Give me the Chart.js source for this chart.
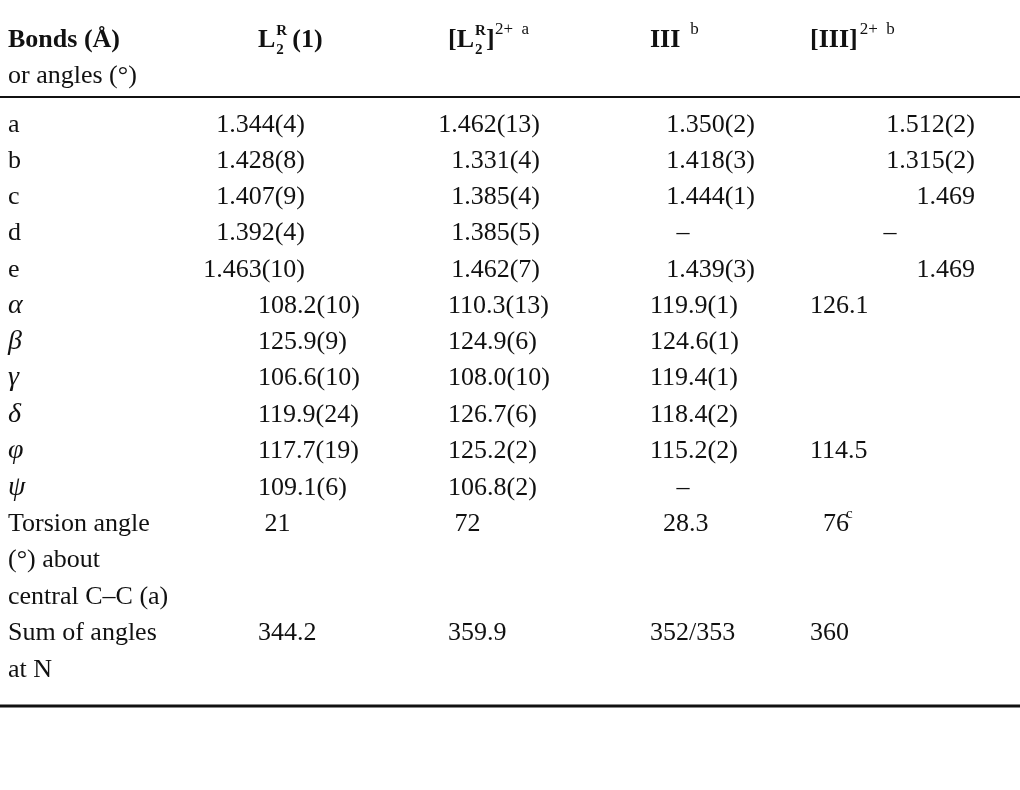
<!DOCTYPE html>
<html><head><meta charset="utf-8">
<script src="https://cdn.jsdelivr.net/npm/chart.js@4"></script>
<style>body{margin:0;background:#fff}#wrap{width:1020px;height:790px}</style>
</head><body><div id="wrap"><canvas id="canvas"></canvas></div>
<script>
// table contents
var rowLabels = ['a','b','c','d','e','α','β','γ','δ','φ','ψ','Torsion angle','(°) about','central C–C (a)','Sum of angles','at N'];
var colL2 = ['1.344(4)','1.428(8)','1.407(9)','1.392(4)','1.463(10)','108.2(10)','125.9(9)','106.6(10)','119.9(24)','117.7(19)','109.1(6)',' 21','','','344.2',''];
var colL2ion = ['1.462(13)','1.331(4)','1.385(4)','1.385(5)','1.462(7)','110.3(13)','124.9(6)','108.0(10)','126.7(6)','125.2(2)','106.8(2)',' 72','','','359.9',''];
var colIII = ['1.350(2)','1.418(3)','1.444(1)','–','1.439(3)','119.9(1)','124.6(1)','119.4(1)','118.4(2)','115.2(2)','–','  28.3','','','352/353',''];
var colIIIion = ['1.512(2)','1.315(2)','1.469','–','1.469','126.1','','','','114.5','','  76','','','360',''];
var rowY = [125,161,197,233,270,306,342,378,415,451,488,524,560,597,633,670];
var colLeft = [8,258,448,650,810];
var colRight = [0,305,540,755,975];
var dashX = [0,0,0,683,890];

var font = '"Liberation Serif", "DejaVu Serif", serif';

var tablePlugin = {
  id: 'tableText',
  afterDraw: function(chart){
    var ctx = chart.ctx, xs = chart.scales.x, ys = chart.scales.y;
    var X = function(v){ return xs.getPixelForValue(v); };
    var Y = function(v){ return ys.getPixelForValue(v); };
    ctx.save();
    ctx.fillStyle = '#111';
    ctx.textBaseline = 'middle';
    function txt(s, x, y, size, align, style){
      ctx.font = (style ? style + ' ' : '') + size + 'px ' + font;
      ctx.textAlign = align || 'left';
      ctx.fillText(s, X(x), Y(y));
      return ctx.measureText(s).width;
    }
    // header
    txt('Bonds (Å)', 8, 40, 26, 'left', 'bold');
    txt('or angles (°)', 8, 76, 26);
    var w = txt('L', 258, 40, 26, 'left', 'bold');
    txt('R', 258 + w + 1, 31, 15, 'left', 'bold');
    txt('2', 258 + w + 1, 50, 15, 'left', 'bold');
    txt('(1)', 258 + w + 17, 40, 26, 'left', 'bold');
    w = txt('[L', 448, 40, 26, 'left', 'bold');
    txt('R', 448 + w + 1, 31, 15, 'left', 'bold');
    txt('2', 448 + w + 1, 50, 15, 'left', 'bold');
    txt(']', 448 + w + 12, 40, 26, 'left', 'bold');
    txt('2+  a', 448 + w + 21, 30, 17);
    w = txt('III', 650, 40, 26, 'left', 'bold');
    txt('b', 650 + w + 10, 30, 17);
    w = txt('[III]', 810, 40, 26, 'left', 'bold');
    txt('2+  b', 810 + w + 2, 30, 17);
    // rows
    var cols = [colL2, colL2ion, colIII, colIIIion];
    rowY.forEach(function(y, i){
      var greek = i >= 5 && i <= 10;
      txt(rowLabels[i], 8, y, greek ? 28 : 26, 'left', greek ? 'italic' : '');
      cols.forEach(function(col, c){
        var v = col[i];
        if (!v) return;
        if (v === '–') txt(v, dashX[c+1], y, 26, 'center');
        else if (i < 5) txt(v, colRight[c+1], y, 26, 'right');
        else txt(v, colLeft[c+1], y, 26, 'left');
      });
    });
    txt('c', 846, 514, 15);
    // rules
    ctx.strokeStyle = '#111';
    ctx.lineWidth = 2;
    ctx.beginPath(); ctx.moveTo(X(0), Y(97)); ctx.lineTo(X(1020), Y(97)); ctx.stroke();
    ctx.lineWidth = 3;
    ctx.beginPath(); ctx.moveTo(X(0), Y(706)); ctx.lineTo(X(1020), Y(706)); ctx.stroke();
    ctx.restore();
  }
};

new Chart(document.getElementById('canvas').getContext('2d'), {
  type: 'scatter',
  data: { datasets: [{ data: [], pointRadius: 0 }] },
  options: {
    responsive: true,
    maintainAspectRatio: false,
    animation: false,
    layout: { padding: 0 },
    plugins: { legend: { display: false }, tooltip: { enabled: false } },
    scales: {
      x: { type: 'linear', min: 0, max: 1020, display: false },
      y: { type: 'linear', min: 0, max: 790, reverse: true, display: false }
    }
  },
  plugins: [tablePlugin]
});
</script></body></html>
